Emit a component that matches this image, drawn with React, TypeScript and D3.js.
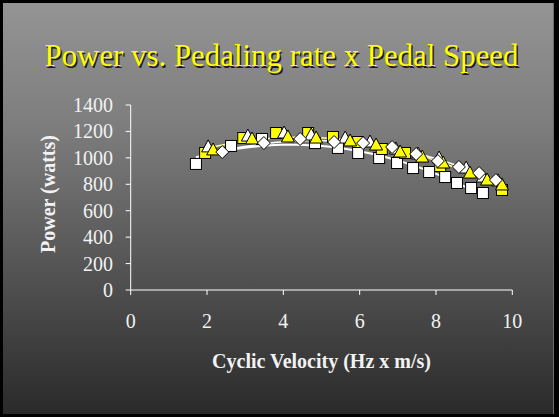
import React from "react";
import * as d3 from "d3";

const W = 559;
const H = 417;

const titleText = "Power vs. Pedaling rate x Pedal Speed";
const xLabel = "Cyclic Velocity (Hz x m/s)";
const yLabel = "Power (watts)";
const xTicks = [0, 2, 4, 6, 8, 10];
const yTicks = [0, 200, 400, 600, 800, 1000, 1200, 1400];

// white squares
const sqWhiteX = [1.71, 2.63, 3.44, 4.83, 5.43, 5.96, 6.51, 6.98, 7.4, 7.82, 8.24, 8.55, 8.92, 9.23];
const sqWhiteY = [954, 1090, 1143, 1112, 1075, 1037, 999, 961, 923, 893, 855, 810, 772, 734];
// yellow squares
const sqYellowX = [1.95, 2.95, 3.81, 4.65, 5.3, 5.96, 6.58, 7.19, 8.11, 9.73];
const sqYellowY = [1037, 1150, 1188, 1188, 1158, 1120, 1067, 1037, 938, 757];
// white triangles
const triWhiteX = [2.03, 3.07, 4.02, 4.73, 5.62, 6.27, 6.95, 7.53, 8.08, 8.79, 9.23, 9.63];
const triWhiteY = [1083, 1165, 1188, 1173, 1150, 1120, 1067, 1029, 999, 923, 855, 825];
// yellow triangles
const triYellowX = [2.16, 3.18, 4.12, 4.86, 5.75, 6.43, 7.06, 7.64, 8.19, 8.89, 9.34, 9.73];
const triYellowY = [1060, 1143, 1158, 1150, 1128, 1097, 1044, 1006, 961, 885, 832, 795];
// white diamonds
const diaX = [2.4, 3.49, 4.44, 5.33, 6.09, 6.85, 7.48, 8.05, 8.6, 9.13, 9.57];
const diaY = [1044, 1112, 1143, 1120, 1112, 1082, 1029, 976, 931, 885, 832];

function quadFit(xs: number[], ys: number[]) {
  let s0 = 0, s1 = 0, s2 = 0, s3 = 0, s4 = 0, t0 = 0, t1 = 0, t2 = 0;
  xs.forEach((x, i) => {
    const y = ys[i];
    s0 += 1; s1 += x; s2 += x * x; s3 += x * x * x; s4 += x * x * x * x;
    t0 += y; t1 += x * y; t2 += x * x * y;
  });
  const M = [
    [s0, s1, s2, t0],
    [s1, s2, s3, t1],
    [s2, s3, s4, t2],
  ];
  for (let i = 0; i < 3; i++) {
    let p = i;
    for (let r = i + 1; r < 3; r++) if (Math.abs(M[r][i]) > Math.abs(M[p][i])) p = r;
    [M[i], M[p]] = [M[p], M[i]];
    for (let r = 0; r < 3; r++) {
      if (r === i) continue;
      const f = M[r][i] / M[i][i];
      for (let c = i; c < 4; c++) M[r][c] -= f * M[i][c];
    }
  }
  const a = M[0][3] / M[0][0], b = M[1][3] / M[1][1], c = M[2][3] / M[2][2];
  return (x: number) => a + b * x + c * x * x;
}

export default function App() {
  const x = d3.scaleLinear().domain([0, 10]).range([130.7, 512.3]);
  const y = d3.scaleLinear().domain([0, 1400]).range([290, 105]);

  const trend = (xs: number[], ys: number[]) => {
    const f = quadFit(xs, ys);
    const lo = d3.min(xs) as number, hi = d3.max(xs) as number;
    const pts = d3.range(0, 41).map((i) => lo + ((hi - lo) * i) / 40);
    return d3.line<number>().x((v) => x(v)).y((v) => y(f(v)))(pts) || "";
  };

  const yellowAllX = sqYellowX.concat(triYellowX);
  const yellowAllY = sqYellowY.concat(triYellowY);

  const sq = (cx: number, cy: number, fill: string, k: string) => (
    <rect key={k} x={cx - 5.5} y={cy - 5.5} width={11} height={11} fill={fill} stroke="#000" strokeWidth={1} />
  );
  const tri = (cx: number, cy: number, fill: string, k: string) => (
    <path key={k} d={`M${cx},${cy - 7} L${cx + 6.5},${cy + 5} L${cx - 6.5},${cy + 5} Z`} fill={fill} stroke="#000" strokeWidth={1} />
  );
  const dia = (cx: number, cy: number, fill: string, k: string) => (
    <path key={k} d={`M${cx},${cy - 6.5} L${cx + 6.5},${cy} L${cx},${cy + 6.5} L${cx - 6.5},${cy} Z`} fill={fill} stroke="#000" strokeWidth={1} />
  );

  const serif = "'Liberation Serif', 'Times New Roman', serif";

  return (
    <div style={{ position: "fixed", left: 0, top: 0, width: W, height: H }}>
      <svg width={W} height={H} viewBox={`0 0 ${W} ${H}`} style={{ display: "block" }}>
        <defs>
          <linearGradient id="bg" x1="0" y1="0" x2="0" y2="1">
            <stop offset="0" stopColor="#949494" />
            <stop offset="0.3" stopColor="#7d7d7d" />
            <stop offset="1" stopColor="#2a2a2a" />
          </linearGradient>
        </defs>
        <rect x={0} y={0} width={W} height={H} fill="#000" />
        <rect x={3} y={3} width={550} height={411} fill="url(#bg)" />
        <line x1={553.5} y1={3} x2={553.5} y2={414} stroke="#6a6a6a" strokeWidth={1} />

        {/* title */}
        <text x={281.5} y={66} textAnchor="middle" fontFamily={serif} fontSize={31} fill="#000" opacity={0.8} transform="translate(1.5,1.5)" textLength={474} lengthAdjust="spacingAndGlyphs">
          {titleText}
        </text>
        <text x={281.5} y={66} textAnchor="middle" fontFamily={serif} fontSize={31} fill="#ffff00" textLength={474} lengthAdjust="spacingAndGlyphs">
          {titleText}
        </text>

        {/* axes */}
        <line x1={x(0)} y1={y(0)} x2={x(10)} y2={y(0)} stroke="#fff" strokeWidth={1} />
        <line x1={x(0)} y1={y(0)} x2={x(0)} y2={y(1400)} stroke="#fff" strokeWidth={1} />
        {yTicks.map((t) => (
          <g key={"yt" + t}>
            <line x1={x(0) - 5} x2={x(0)} y1={y(t)} y2={y(t)} stroke="#fff" strokeWidth={1} />
            <text x={113} y={y(t) + 7} textAnchor="end" fontFamily={serif} fontSize={20} fill="#f2f2f2">
              {t}
            </text>
          </g>
        ))}
        {xTicks.map((t) => (
          <g key={"xt" + t}>
            <line x1={x(t)} x2={x(t)} y1={y(0)} y2={y(0) + 5} stroke="#fff" strokeWidth={1} />
            <text x={x(t)} y={328} textAnchor="middle" fontFamily={serif} fontSize={20} fill="#f2f2f2">
              {t}
            </text>
          </g>
        ))}

        <text x={321.5} y={368} textAnchor="middle" fontFamily={serif} fontSize={20} fontWeight="bold" fill="#f2f2f2">
          {xLabel}
        </text>
        <text transform="translate(55,194) rotate(-90)" textAnchor="middle" fontFamily={serif} fontSize={20} fontWeight="bold" fill="#f2f2f2">
          {yLabel}
        </text>

        {/* trendlines */}
        <path d={trend(yellowAllX, yellowAllY)} fill="none" stroke="#ffffa0" strokeWidth={1.5} />
        <path d={trend(diaX, diaY)} fill="none" stroke="#ffffff" strokeWidth={1.5} />
        <path d={trend(sqWhiteX, sqWhiteY)} fill="none" stroke="#ffffff" strokeWidth={2} />

        {/* markers */}
        {sqWhiteX.map((v, i) => sq(x(v), y(sqWhiteY[i]), "#ffffff", "sw" + i))}
        {sqYellowX.map((v, i) => sq(x(v), y(sqYellowY[i]), "#ffff00", "sy" + i))}
        {triWhiteX.map((v, i) => tri(x(v), y(triWhiteY[i]), "#ffffff", "tw" + i))}
        {triYellowX.map((v, i) => tri(x(v), y(triYellowY[i]), "#ffff00", "ty" + i))}
        {diaX.map((v, i) => dia(x(v), y(diaY[i]), "#ffffff", "d" + i))}
      </svg>
    </div>
  );
}
